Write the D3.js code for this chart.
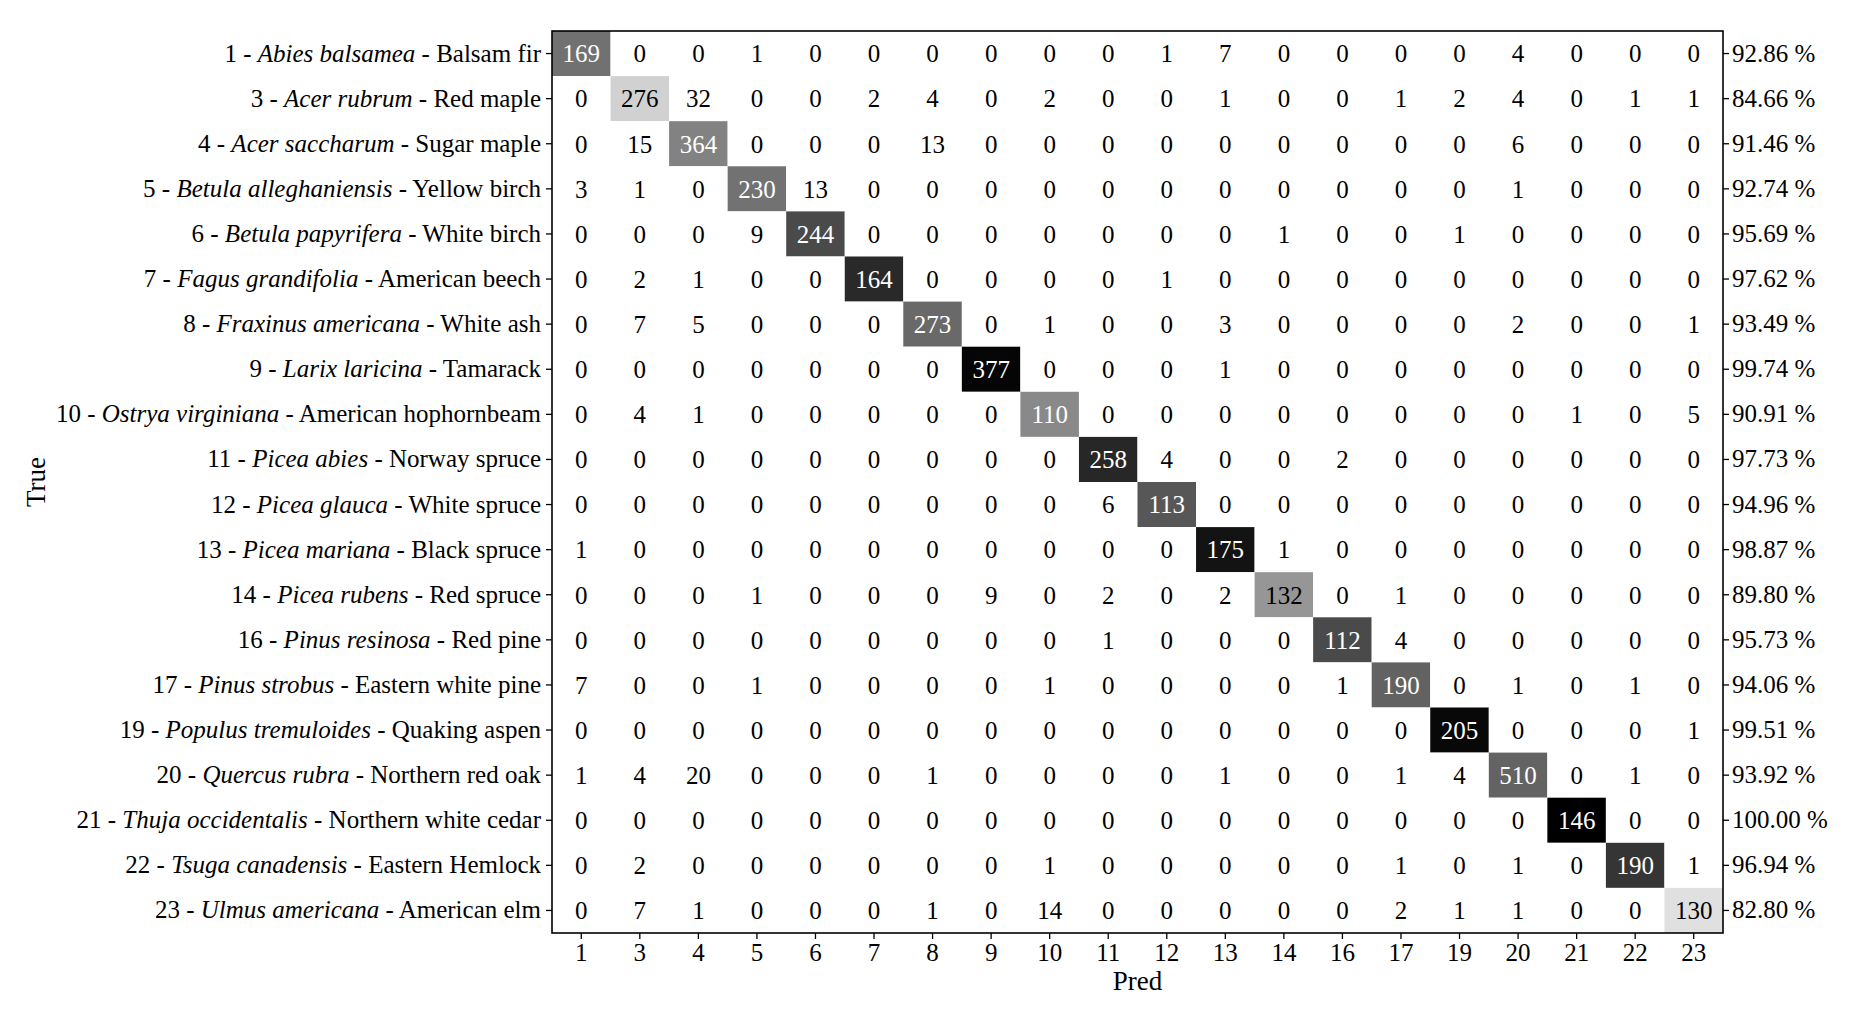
<!DOCTYPE html>
<html>
<head>
<meta charset="utf-8">
<script src="https://cdn.jsdelivr.net/npm/d3@7"></script>
<style>
  body { margin: 0; background: #fff; }
  svg text { font-family: "Liberation Serif", "Nimbus Roman", "Times New Roman", Times, "DejaVu Serif"; fill: #000; }
</style>
</head>
<body>
<div class="cm-box"></div>
<script>
// class ids, same order for rows (true) and columns (pred)
var class_ids = ['1','3','4','5','6','7','8','9','10','11','12','13','14','16','17','19','20','21','22','23'];
var latin_names = ['Abies balsamea','Acer rubrum','Acer saccharum','Betula alleghaniensis','Betula papyrifera',
  'Fagus grandifolia','Fraxinus americana','Larix laricina','Ostrya virginiana','Picea abies',
  'Picea glauca','Picea mariana','Picea rubens','Pinus resinosa','Pinus strobus',
  'Populus tremuloides','Quercus rubra','Thuja occidentalis','Tsuga canadensis','Ulmus americana'];
var common_names = ['Balsam fir','Red maple','Sugar maple','Yellow birch','White birch',
  'American beech','White ash','Tamarack','American hophornbeam','Norway spruce',
  'White spruce','Black spruce','Red spruce','Red pine','Eastern white pine',
  'Quaking aspen','Northern red oak','Northern white cedar','Eastern Hemlock','American elm'];
var recall_labels = ['92.86 %','84.66 %','91.46 %','92.74 %','95.69 %','97.62 %','93.49 %','99.74 %','90.91 %','97.73 %',
  '94.96 %','98.87 %','89.80 %','95.73 %','94.06 %','99.51 %','93.92 %','100.00 %','96.94 %','82.80 %'];

var counts = [
  [169,0,0,1,0,0,0,0,0,0,1,7,0,0,0,0,4,0,0,0],
  [0,276,32,0,0,2,4,0,2,0,0,1,0,0,1,2,4,0,1,1],
  [0,15,364,0,0,0,13,0,0,0,0,0,0,0,0,0,6,0,0,0],
  [3,1,0,230,13,0,0,0,0,0,0,0,0,0,0,0,1,0,0,0],
  [0,0,0,9,244,0,0,0,0,0,0,0,1,0,0,1,0,0,0,0],
  [0,2,1,0,0,164,0,0,0,0,1,0,0,0,0,0,0,0,0,0],
  [0,7,5,0,0,0,273,0,1,0,0,3,0,0,0,0,2,0,0,1],
  [0,0,0,0,0,0,0,377,0,0,0,1,0,0,0,0,0,0,0,0],
  [0,4,1,0,0,0,0,0,110,0,0,0,0,0,0,0,0,1,0,5],
  [0,0,0,0,0,0,0,0,0,258,4,0,0,2,0,0,0,0,0,0],
  [0,0,0,0,0,0,0,0,0,6,113,0,0,0,0,0,0,0,0,0],
  [1,0,0,0,0,0,0,0,0,0,0,175,1,0,0,0,0,0,0,0],
  [0,0,0,1,0,0,0,9,0,2,0,2,132,0,1,0,0,0,0,0],
  [0,0,0,0,0,0,0,0,0,1,0,0,0,112,4,0,0,0,0,0],
  [7,0,0,1,0,0,0,0,1,0,0,0,0,1,190,0,1,0,1,0],
  [0,0,0,0,0,0,0,0,0,0,0,0,0,0,0,205,0,0,0,1],
  [1,4,20,0,0,0,1,0,0,0,0,1,0,0,1,4,510,0,1,0],
  [0,0,0,0,0,0,0,0,0,0,0,0,0,0,0,0,0,146,0,0],
  [0,2,0,0,0,0,0,0,1,0,0,0,0,0,1,0,1,0,190,1],
  [0,7,1,0,0,0,1,0,14,0,0,0,0,0,2,1,1,0,0,130]
];

var FONT = '"Liberation Serif", "Nimbus Roman", "Times New Roman", Times, "DejaVu Serif"';
var FONT_SIZE = '25px';

var width = 1855,
    height = 1022,
    margin = {top: 31, right: 132, bottom: 89, left: 552};

var cm_svg = d3.select('.cm-box').append('svg')
    .attr('width', width)
    .attr('height', height)
    .attr('font-family', FONT);

var plot = cm_svg.append('g')
    .attr('transform', 'translate(' + margin.left + ',' + margin.top + ')');

var plot_w = width - margin.left - margin.right,
    plot_h = height - margin.top - margin.bottom;

var x = d3.scaleBand().domain(class_ids).range([0, plot_w]);
var y = d3.scaleBand().domain(class_ids).range([0, plot_h]);

//gray level from row-normalised value, small values stay white
var gray = d3.scaleLinear()
    .domain([0.79, 0.85, 0.90, 0.95, 1.0])
    .range([255, 206, 148, 86, 0])
    .clamp(true);

function cell_fill(d) {
  var g = Math.round(gray(d.norm));
  return d3.rgb(g, g, g).toString();
}

var cells = [];
counts.forEach(function(row, i) {
  var total = d3.sum(row);
  row.forEach(function(v, j) {
    cells.push({r: class_ids[i], c: class_ids[j], value: v, norm: v / total});
  });
});

plot.selectAll('rect.cell')
  .data(cells)
  .enter().append('rect')
  .attr('class', 'cell')
  .attr('x', function(d) { return x(d.c); })
  .attr('y', function(d) { return y(d.r); })
  .attr('width', x.bandwidth())
  .attr('height', y.bandwidth())
  .style('fill', cell_fill);

plot.selectAll('text.cell-val')
  .data(cells)
  .enter().append('text')
  .attr('class', 'cell-val')
  .attr('x', function(d) { return x(d.c) + x.bandwidth() / 2; })
  .attr('y', function(d) { return y(d.r) + y.bandwidth() / 2; })
  .attr('dy', '0.35em')
  .attr('text-anchor', 'middle')
  .style('font-size', FONT_SIZE)
  .style('fill', function(d) { return gray(d.norm) < 144 ? '#fff' : '#000'; })
  .text(function(d) { return d.value; });

// left axis: species labels with italic latin name
var y_left = plot.append('g')
  .call(d3.axisLeft(y).tickSize(6).tickSizeOuter(0).tickPadding(5));
y_left.select('.domain').remove();
y_left.selectAll('.tick text')
  .style('font-size', FONT_SIZE)
  .text(null)
  .each(function(d, i) {
    var t = d3.select(this);
    t.append('tspan').text(class_ids[i] + ' - ');
    t.append('tspan').style('font-style', 'italic').text(latin_names[i]);
    t.append('tspan').text(' - ' + common_names[i]);
  });

// right axis: per class recall
var y_right = plot.append('g')
  .attr('transform', 'translate(' + plot_w + ',0)')
  .call(d3.axisRight(y).tickSize(6).tickSizeOuter(0).tickPadding(3)
    .tickFormat(function(d, i) { return recall_labels[i]; }));
y_right.select('.domain').remove();
y_right.selectAll('.tick text').style('font-size', FONT_SIZE);

var x_axis = plot.append('g')
  .attr('transform', 'translate(0,' + plot_h + ')')
  .call(d3.axisBottom(x).tickSize(6).tickSizeOuter(0).tickPadding(4));
x_axis.select('.domain').remove();
x_axis.selectAll('.tick text').style('font-size', FONT_SIZE);

// d3 axis sets its own sans-serif family on the group
cm_svg.selectAll('g').attr('font-family', FONT);
cm_svg.selectAll('.tick line').attr('stroke', '#000').attr('stroke-width', 1.3);

//frame
plot.append('rect')
  .attr('width', plot_w)
  .attr('height', plot_h)
  .attr('fill', 'none')
  .attr('stroke', '#000')
  .attr('stroke-width', 1.6);

plot.append('text')
  .attr('x', plot_w / 2)
  .attr('y', plot_h + 57)
  .attr('text-anchor', 'middle')
  .style('font-size', '27px')
  .text('Pred');

plot.append('text')
  .attr('transform', 'translate(' + (36 - margin.left) + ',' + (plot_h / 2) + ') rotate(-90)')
  .attr('dy', '0.35em')
  .attr('text-anchor', 'middle')
  .style('font-size', '27px')
  .text('True');
</script>
</body>
</html>
